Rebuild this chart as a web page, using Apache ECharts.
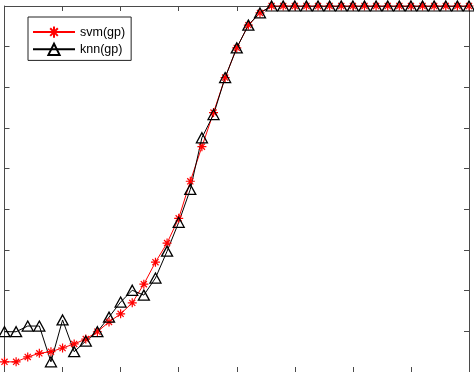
<!DOCTYPE html>
<html>
<head>
<meta charset="utf-8">
<script src="https://cdn.jsdelivr.net/npm/echarts@6/dist/echarts.min.js"></script>
<style>
html,body{margin:0;padding:0;background:#fff;}
#c{width:474px;height:372px;}
</style>
</head>
<body>
<div id="c"></div>
<script>
var xs = [0,1,2,3,4,5,6,7,8,9,10,11,12,13,14,15,16,17,18,19,20,21,22,23,24,25,26,27,28,29,30,31,32,33,34,35,36,37,38,39,40];
var svm = [12.5,12.5,13.7,14.6,15.0,15.9,16.9,18.1,19.9,22.3,24.3,27.0,31.6,37.0,41.7,47.8,56.9,65.4,73.8,82.4,89.7,95.3,98.3,100,100,100,100,100,100,100,100,100,100,100,100,100,100,100,100,100,100];
var knn = [19.9,19.9,21.3,21.3,12.5,22.8,15.0,17.6,19.9,23.5,27.2,30.1,28.9,33.1,39.7,46.8,54.9,67.6,73.3,82.4,89.7,95.3,98.3,100,100,100,100,100,100,100,100,100,100,100,100,100,100,100,100,100,100];
var names = ['svm(gp)','knn(gp)'];

function pairs(v){ return xs.map(function(x,i){ return [x, v[i]]; }); }

var axisCol = '#4a4a4a';
function xAx(pos){
  return {type:'value', position:pos, min:0, max:40, interval:5,
    axisLine:{show:true, onZero:false, lineStyle:{color:axisCol, width:1}},
    axisTick:{show:true, inside:true, length:5, lineStyle:{color:axisCol}},
    axisLabel:{show:false}, splitLine:{show:false}};
}
function yAx(pos){
  return {type:'value', position:pos, min:10, max:100, interval:10,
    axisLine:{show:true, onZero:false, lineStyle:{color:axisCol, width:1}},
    axisTick:{show:true, inside:true, length:5, lineStyle:{color:axisCol}},
    axisLabel:{show:false}, splitLine:{show:false}};
}
var star = 'path://M5,0L5,10M0,5L10,5M1.6,1.6L8.4,8.4M1.6,8.4L8.4,1.6';

var chart = echarts.init(document.getElementById('c'), null, {renderer:'canvas'});
chart.setOption({
  animation:false,
  backgroundColor:'#fff',
  grid:{left:4.5, right:5, top:6, bottom:-1, containLabel:false},
  xAxis:[xAx('bottom'), xAx('top')],
  yAxis:[yAx('left'), yAx('right')],
  legend:{
    orient:'vertical', left:28, top:17,
    data:names,
    itemWidth:42, itemHeight:14, itemGap:1,
    padding:[7,6,3,4],
    borderColor:'#222', borderWidth:1, backgroundColor:'#fff',
    textStyle:{fontFamily:'Liberation Sans, Arial', fontSize:12.5, color:'#000', lineHeight:14}
  },
  series:[
    {name:names[0], type:'line', xAxisIndex:0, yAxisIndex:0, data:pairs(svm),
     symbol:star, symbolSize:9,
     lineStyle:{color:'#ff0000', width:1},
     itemStyle:{color:'none', borderColor:'#ff0000', borderWidth:1.2}},
    {name:names[1], type:'line', xAxisIndex:0, yAxisIndex:0, data:pairs(knn),
     symbol:'triangle', symbolSize:[11,10],
     lineStyle:{color:'#000', width:1},
     itemStyle:{color:'none', borderColor:'#000', borderWidth:1.3}}
  ]
});
</script>
</body>
</html>
